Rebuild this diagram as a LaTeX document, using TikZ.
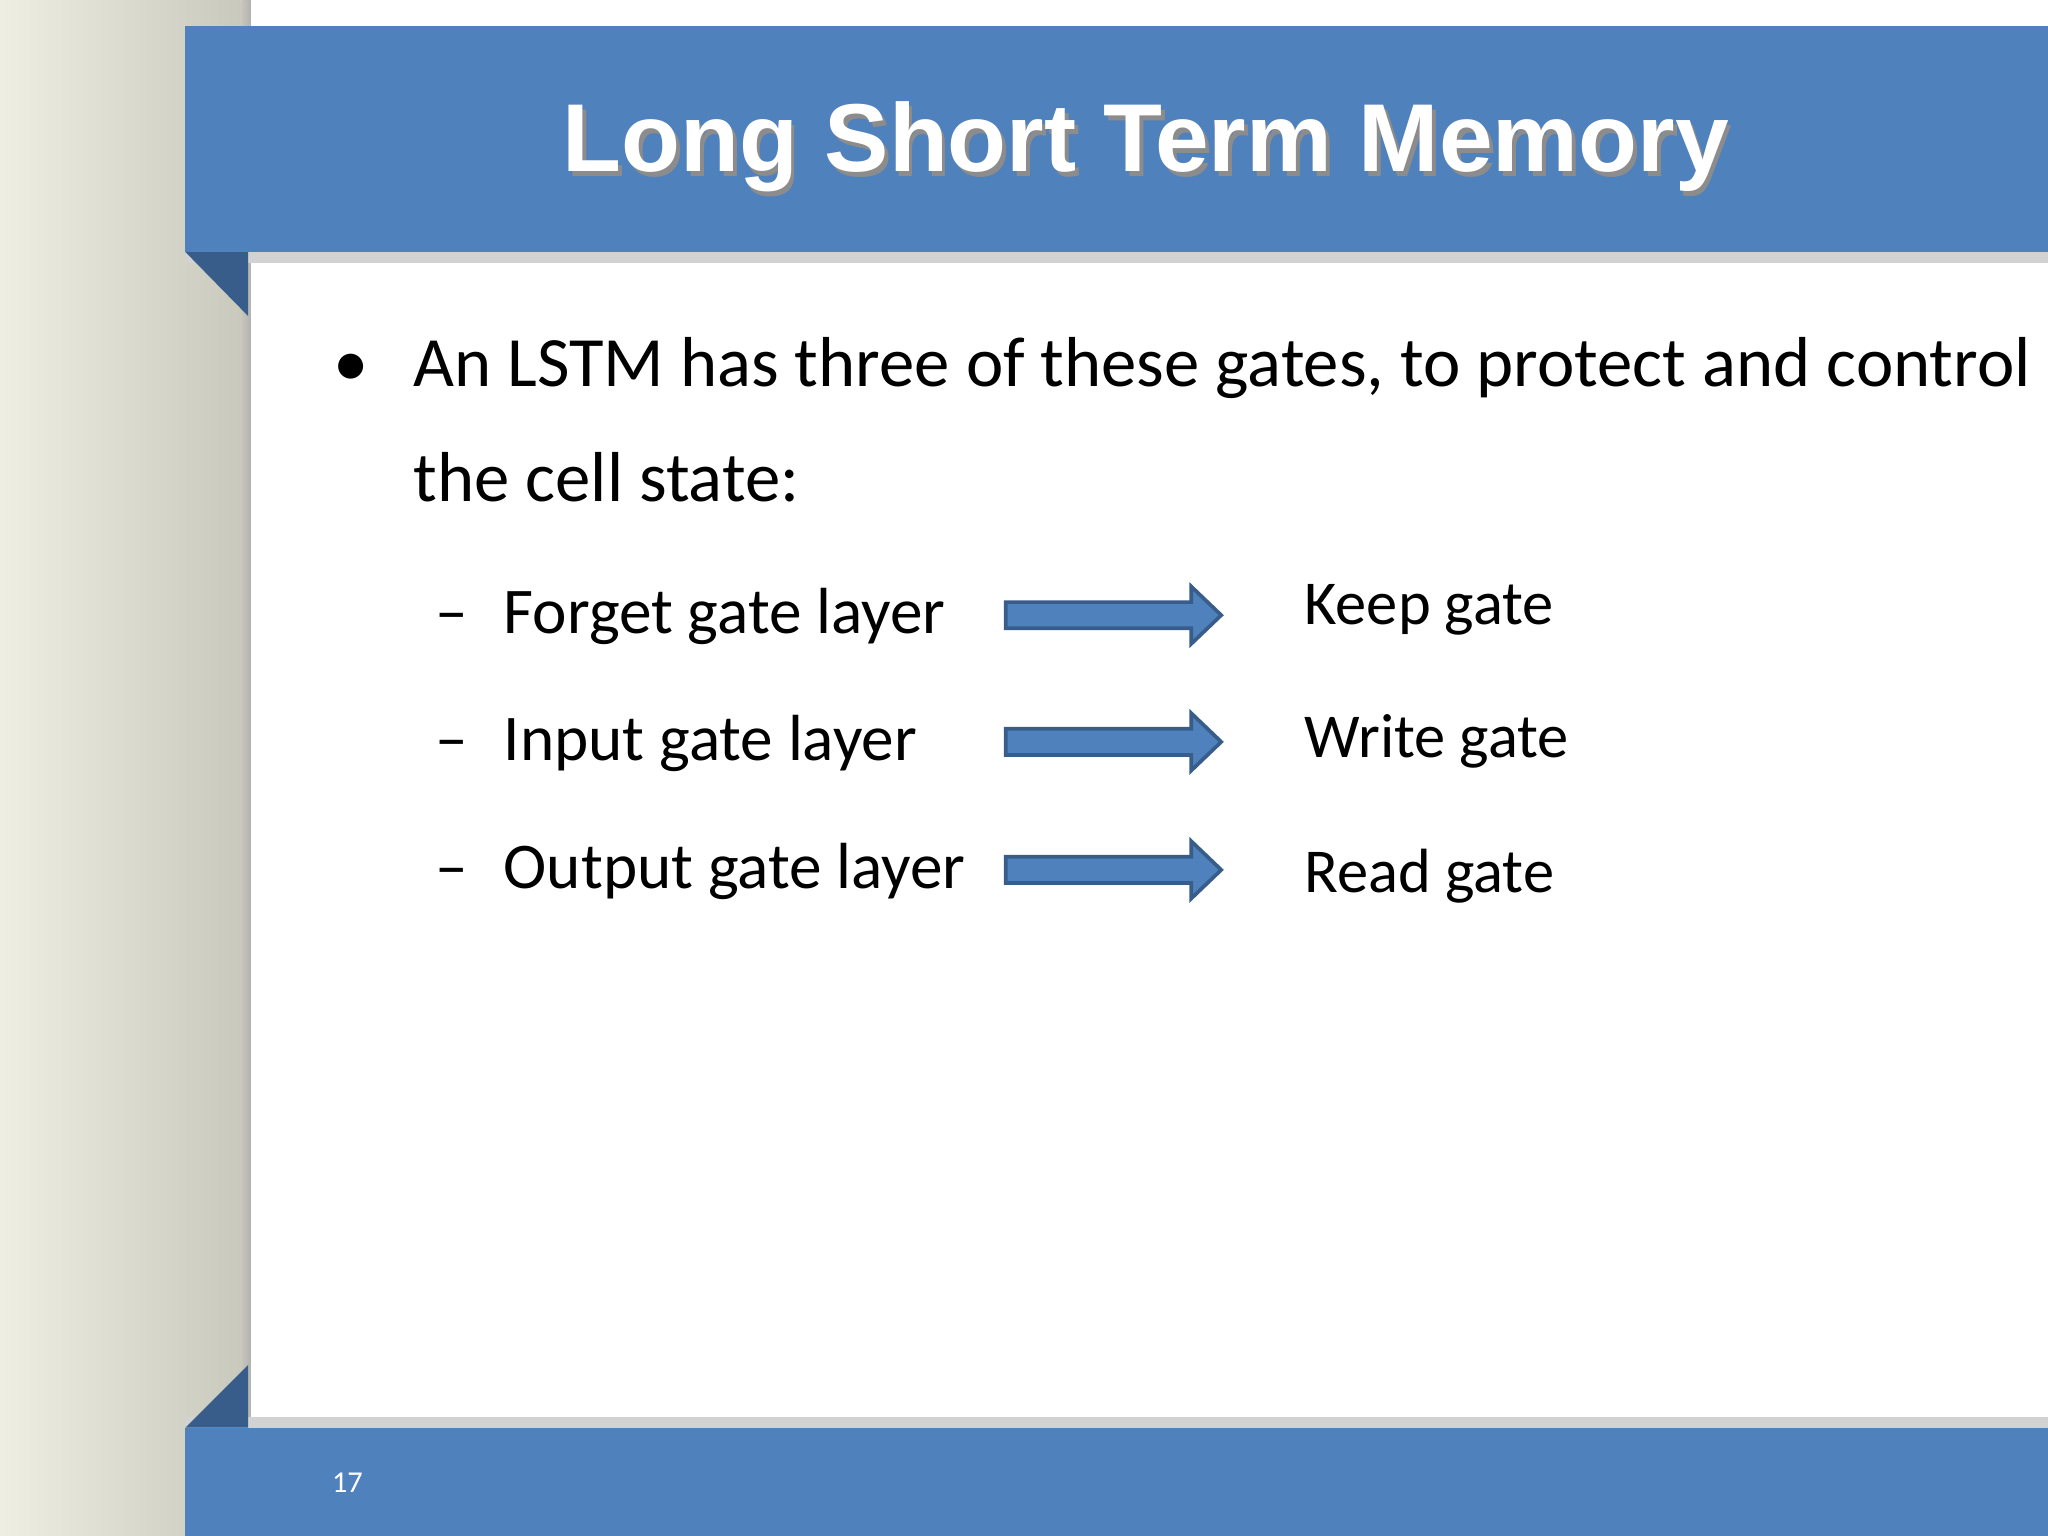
\documentclass[tikz,border=0pt]{standalone}
\usepackage{fontspec}
\setmainfont{Carlito}
\newfontfamily\titlefont{Liberation Sans}
\usetikzlibrary{shadows}
\definecolor{band}{HTML}{4F81BD}
\definecolor{bandd}{HTML}{385D8A}
\definecolor{stripl}{HTML}{EEEEE2}
\definecolor{stripr}{HTML}{C9C9BD}
\tikzset{
 body/.style={anchor=base west,inner sep=0pt,font=\fontsize{15.4}{18}\selectfont},
 sub/.style={anchor=base west,inner sep=0pt,font=\fontsize{14.2}{17}\selectfont},
 lab/.style={anchor=base west,inner sep=0pt,font=\fontsize{13.6}{16}\selectfont},
 fatarrow/.style={fill=band,draw=bandd,line width=0.8pt}
}
\begin{document}
\begin{tikzpicture}[x=0.01cm,y=-0.01cm]
\useasboundingbox (0,0) rectangle (1568,1176);
\fill[white] (0,0) rectangle (1568,1176);
\shade[left color=stripl,right color=stripr] (0,0) rectangle (184,1176);
\shade[left color=stripr,right color=gray!60] (184,0) rectangle (192,1176);
% title banner
\fill[gray!35] (142,193) rectangle (1568,201);
\fill[band] (142,20) rectangle (1568,193);
\fill[bandd] (142,193) -- (190,193) -- (190,242) -- cycle;
\node[text=black!45,font=\titlefont\bfseries\fontsize{21}{24}\selectfont] at (880,116) {Long Short Term Memory};
\node (title)[text=white,font=\titlefont\bfseries\fontsize{21}{24}\selectfont] at (877,112) {Long Short Term Memory};
% bottom bar
\fill[gray!35] (142,1085) rectangle (1568,1093);
\fill[band] (142,1093) rectangle (1568,1176);
\fill[bandd] (142,1093) -- (190,1093) -- (190,1045) -- cycle;
\node (num)[text=white,font=\fontsize{6.6}{8}\selectfont] at (266,1135) {17};
% bullets
\node[body] (b) at (255,296) {•};
\node[body] (l1) at (316,296) {An LSTM has three of these gates, to protect and control};
\node[body] (l2) at (316,384) {the cell state:};
\foreach \y/\t/\r/\ry [count=\i] in {485/Forget gate layer/Keep gate/478, 582/Input gate layer/Write gate/580, 680/Output gate layer/Read gate/683}{
  \node[sub] (d\i) at (333,\y) {–};
  \node[sub] (s\i) at (385,\y) {\t};
  \node[lab] (r\i) at (998,\ry) {\r};
  \pgfmathsetmacro{\c}{\y-14}
  \draw[fatarrow] (770,\c-10) -- (912,\c-10) -- (912,\c-22) -- (935,\c) -- (912,\c+22) -- (912,\c+10) -- (770,\c+10) -- cycle;
}
\end{tikzpicture}
\end{document}
